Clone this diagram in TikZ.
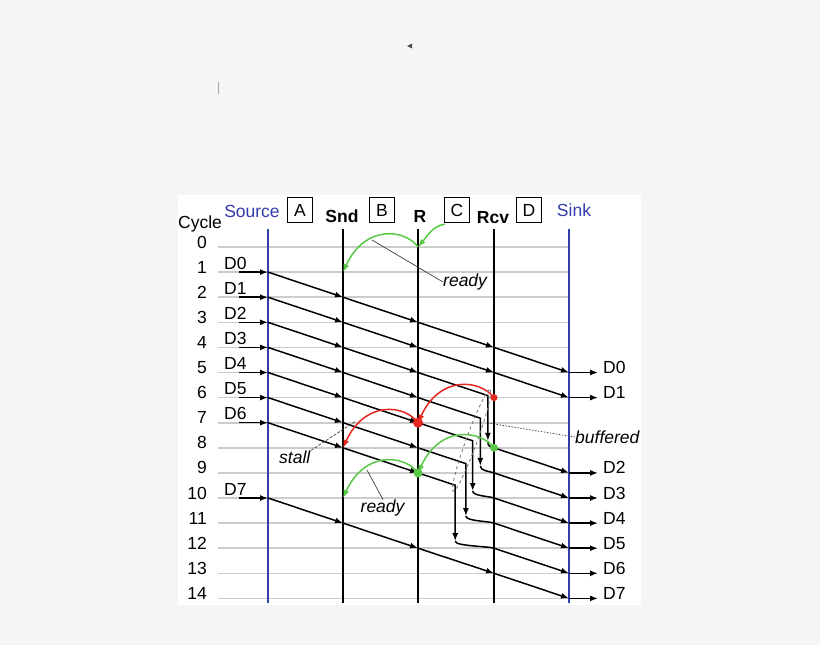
\documentclass[tikz,border=0pt]{standalone}
\usepackage{fontspec}
\setmainfont{Liberation Sans}
\usetikzlibrary{arrows.meta,shapes.geometric,calc}

\definecolor{linkblue}{RGB}{50,60,170}
\definecolor{stallred}{RGB}{228,40,32}
\definecolor{readygreen}{RGB}{88,200,70}

\tikzset{
  wire/.style={line width=2.8pt},
  row/.style={line width=1.6pt, gray!40},
  data/.style={line width=1.5pt, ->},
  lbl/.style={font=\fontsize{17.5}{20}\selectfont, inner sep=0pt},
  stagebox/.style={lbl, draw, line width=1.3pt, minimum size=25pt},
  note/.style={line width=0.7pt, black!75},
  back/.style={line width=1.5pt, ->},
}

\begin{document}
\begin{tikzpicture}[x=1pt,y=-1pt,>={Latex[length=8pt,width=6pt]}]
  \fill[gray!8] (0,0) rectangle (820,645);
  \useasboundingbox (0,0) rectangle (820,645);
  \fill[white] (178,195) rectangle (641,605);
  \fill[black!70] (407,46) -- (412,43.5) -- (412,48.5) -- cycle;
  \draw[black!35, line width=0.8pt] (218,82) -- (218,94);

  % one point per stage and cycle
  \foreach \s/\x in {src/268,snd/343,r/418,rcv/494,snk/569}{
    \coordinate (\s-top) at (\x,229);
    \coordinate (\s-bot) at (\x,603);
    \foreach \k in {0,...,14}
      \coordinate (\s-\k) at (\x,247+25.1*\k);
  }

  \foreach \k in {0,...,14}{
    \node[lbl, anchor=east] (cyc-\k) at (207,242+25.1*\k) {\k};
    \draw[row] (218,247+25.1*\k) -- (snk-\k);
  }
  \foreach \s/\c in {src/linkblue,snd/black,r/black,rcv/black,snk/linkblue}
    \draw[wire, \c] (\s-top) -- (\s-bot);

  % header
  \node[lbl, anchor=base west] (cycle) at (178,228) {Cycle};
  \node[lbl, anchor=base, linkblue] (source) at (252,217) {Source};
  \node[stagebox] (A) at (300,210) {A};
  \node[lbl, anchor=base] (sndl) at (342,222) {\textbf{Snd}};
  \node[stagebox] (B) at (382,210) {B};
  \node[lbl, anchor=base] (rl) at (420,222) {\textbf{R}};
  \node[stagebox] (C) at (457,210) {C};
  \node[lbl, anchor=base] (rcvl) at (493,223) {\textbf{Rcv}};
  \node[stagebox] (D) at (529,210) {D};
  \node[lbl, anchor=base, linkblue] (sink) at (574,216) {Sink};

  % data in
  \foreach \d/\k in {0/1,1/2,2/3,3/4,4/5,5/6,6/7,7/10}{
    \node[lbl, anchor=base west] (in-\d) at (224,244+25.1*\k) {D\d};
    \draw[data] (in-\d.base east) ++(-8,3) -- (src-\k);
  }

  % data out
  \foreach \d/\k in {0/5,1/6,2/9,3/10,4/11,5/12,6/13,7/14}{
    \node[lbl, anchor=base west] (out-\d) at (603,248+25.1*\k) {D\d};
    \draw[data, shorten >=5pt] (snk-\k) -- (snk-\k -| out-\d.west);
  }

  % source -> snd -> r
  \foreach \k in {1,2,3,4,5,6,7,10}{
    \pgfmathtruncatemacro\ka{\k+1}
    \pgfmathtruncatemacro\kb{\k+2}
    \draw[data] (src-\k) -- (snd-\ka);
    \draw[data] (snd-\ka) -- (r-\kb);
  }
  % r -> rcv
  \foreach \k in {3,4,12}{
    \pgfmathtruncatemacro\ka{\k+1}
    \draw[data] (r-\k) -- (rcv-\ka);
  }
  % held data
  \foreach \d/\k/\f/\m in {2/5/0.92/8,3/6/0.82/9,4/7/0.72/10,5/8/0.63/11,6/9/0.49/12}{
    \pgfmathtruncatemacro\ka{\k+1}
    \coordinate (hold-\d) at ($(r-\k)!\f!(rcv-\ka)$);
    \coordinate (drop-\d) at ($(hold-\d |- rcv-\m)+(0,-7)$);
    \draw[data] (r-\k) -- (hold-\d) -- (drop-\d);
    \draw[line width=1.5pt] (drop-\d) .. controls +(0,5) and +(-6,-2) .. (rcv-\m);
  }
  % rcv -> sink
  \foreach \k in {4,5,8,9,10,11,12,13}{
    \pgfmathtruncatemacro\ka{\k+1}
    \draw[data] (rcv-\k) -- (snk-\ka);
  }

  % ready / stall
  \draw[back, readygreen] (C.south west) ++(1,1) .. controls +(-12,2) and +(10,-12) .. (r-0);
  \draw[back, readygreen] (r-0) .. controls +(-13,-18) and +(22,-48) .. (snd-1);
  \draw[back, stallred] (rcv-6) .. controls +(-14,-18) and +(22,-48) .. (r-7);
  \draw[back, stallred] (r-7) .. controls +(-13,-18) and +(22,-48) .. (snd-8);
  \draw[back, readygreen] (rcv-8) .. controls +(-14,-18) and +(22,-48) .. (r-9);
  \draw[back, readygreen] (r-9) .. controls +(-13,-18) and +(22,-48) .. (snd-10);
  \fill[stallred] (rcv-6) circle (3.5pt);
  \fill[stallred] (r-7) circle (5pt);
  \fill[readygreen] (rcv-8) circle (4pt);
  \fill[readygreen] (r-9) circle (4.5pt);

  \node[draw=black!55, dashed, line width=0.8pt, ellipse, minimum width=108pt,
        minimum height=11pt, rotate=70] (buf) at (471.6,440.5) {};

  % notes
  \coordinate (rdy-a) at (372,240);
  \coordinate (rdy-b) at (367,470);
  \coordinate (stl) at (356,421);
  \coordinate (bufp) at (488,423);
  \node[lbl, anchor=west] (ready-a) at (443,282) {\textit{ready}};
  \node[lbl] (ready-b) at (383,508) {\textit{ready}};
  \node[lbl] (stall) at (295,457) {\textit{stall}};
  \node[lbl, anchor=west] (buffered) at (575,437) {\textit{buffered}};
  \draw[note] (rdy-a) -- (ready-a.west);
  \draw[note] (rdy-b) -- (ready-b.north);
  \draw[note, dash pattern=on 3pt off 1.5pt] (stall.north east) -- (stl);
  \draw[note, dash pattern=on 1.5pt off 1.5pt] (buffered.west) -- (bufp);
\end{tikzpicture}
\end{document}
